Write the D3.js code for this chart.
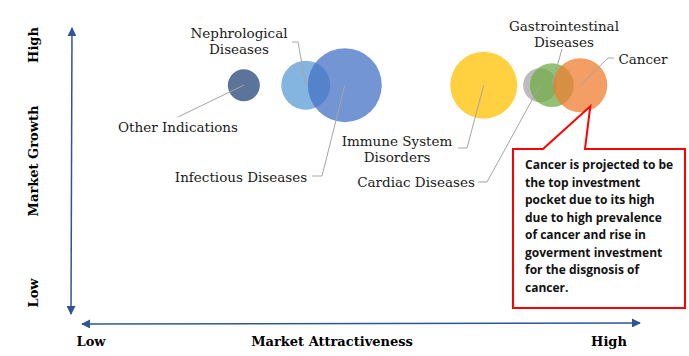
<!DOCTYPE html>
<html>
<head>
<meta charset="utf-8">
<script src="https://cdnjs.cloudflare.com/ajax/libs/d3/7.8.5/d3.min.js"></script>
<style>
  body { margin: 0; background: #fff; }
  svg { display: block; }
</style>
</head>
<body>
<svg id="chart"></svg>
<script>
    // ============ DATA =================
    var categories = ["Other Indications", "Nephrological Diseases", "Infectious Diseases",
        "Immune System Disorders", "Cardiac Diseases", "Gastrointestinal Diseases", "Cancer"];
    var attractiveness = [29, 40.1, 47.1, 72, 82.1, 84.2, 89.3];   // 0-100, low -> high
    var growth = [80, 80, 80, 80, 80, 80, 80];                      // 0-100, low -> high
    var bubbleSize = [16, 37.5, 85.5, 70, 18, 30, 45.5];
    var colors = ["#264478", "#5B9BD5", "#4472C4", "#FFC000", "#A5A5A5", "#70AD47", "#ED7D31"];
    var axisTicks = ["Low", "High"];
    var calloutLines = ["Cancer is projected to be", "the top investment", "pocket due to its high",
        "due to high prevalence", "of cancer and rise in", "goverment investment",
        "for the disgnosis of", "cancer."];

    // label layout: text lines, anchor point, leader elbow points
    var labelLayout = [
        { lines: ["Other Indications"], x: 178, y: 132, anchor: "middle", path: [[178, 117]] },
        { lines: ["Nephrological", "Diseases"], x: 239, y: 38, anchor: "middle", path: [[298, 42], [292, 42]] },
        { lines: ["Infectious Diseases"], x: 241, y: 182, anchor: "middle", path: [[322, 176], [312, 176]] },
        { lines: ["Immune System", "Disorders"], x: 397, y: 146, anchor: "middle", path: [[467, 148], [458, 148]] },
        { lines: ["Cardiac Diseases"], x: 416, y: 187, anchor: "middle", path: [[487, 182], [478, 182]] },
        { lines: ["Gastrointestinal", "Diseases"], x: 564, y: 31, anchor: "middle", path: [[562, 49]] },
        { lines: ["Cancer"], x: 643, y: 64, anchor: "middle", path: [[608, 58], [614, 58]] }
    ];

    var width = 689, height = 356;
    var svg = d3.select("#chart").attr("width", width).attr("height", height);

    var xScale = d3.scaleLinear().domain([0, 100]).range([82, 640]);
    var yScale = d3.scaleLinear().domain([0, 100]).range([314, 28]);
    var rScale = d3.scaleSqrt().domain([0, 100]).range([0, 40]);

    var serif = "'DejaVu Serif', 'Liberation Serif', serif";
    var axisColor = "#2F5597";

    // ============ AXES (arrows) =================
    var defs = svg.append("defs");
    defs.append("marker")
        .attr("id", "arrow")
        .attr("viewBox", "0 0 10 10")
        .attr("refX", 9).attr("refY", 5)
        .attr("markerWidth", 9).attr("markerHeight", 9)
        .attr("markerUnits", "userSpaceOnUse")
        .attr("orient", "auto-start-reverse")
        .append("path")
        .attr("d", "M0,0 L10,5 L0,10 Z")
        .attr("fill", axisColor);

    svg.append("line")
        .attr("x1", 72).attr("y1", yScale(100))
        .attr("x2", 71).attr("y2", yScale(0))
        .attr("stroke", axisColor).attr("stroke-width", 1.5)
        .attr("marker-start", "url(#arrow)")
        .attr("marker-end", "url(#arrow)");

    svg.append("line")
        .attr("x1", xScale(0)).attr("y1", 324)
        .attr("x2", xScale(100)).attr("y2", 323)
        .attr("stroke", axisColor).attr("stroke-width", 1.5)
        .attr("marker-start", "url(#arrow)")
        .attr("marker-end", "url(#arrow)");

    // y axis texts (rotated)
    var yTexts = [
        { t: axisTicks[1], y: 45 },
        { t: "Market Growth", y: 161 },
        { t: axisTicks[0], y: 293 }
    ];
    svg.selectAll(".ytxt")
        .data(yTexts)
        .enter().append("text")
        .attr("class", "ytxt")
        .attr("transform", function (d) { return "translate(38," + d.y + ") rotate(-90)"; })
        .attr("text-anchor", "middle")
        .style("font-family", serif).style("font-weight", "bold").style("font-size", "13px")
        .text(function (d) { return d.t; });

    // x axis texts
    var xTexts = [
        { t: axisTicks[0], x: 91 },
        { t: "Market Attractiveness", x: 332 },
        { t: axisTicks[1], x: 609 }
    ];
    svg.selectAll(".xtxt")
        .data(xTexts)
        .enter().append("text")
        .attr("class", "xtxt")
        .attr("x", function (d) { return d.x; })
        .attr("y", 346)
        .attr("text-anchor", "middle")
        .style("font-family", serif).style("font-weight", "bold").style("font-size", "13px")
        .text(function (d) { return d.t; });

    // ============ BUBBLES =================
    var data = categories.map(function (c, i) {
        return { label: c, x: attractiveness[i], y: growth[i], size: bubbleSize[i], color: colors[i], layout: labelLayout[i] };
    });

    svg.selectAll(".bubble")
        .data(data)
        .enter().append("circle")
        .attr("class", "bubble")
        .attr("cx", function (d) { return xScale(d.x); })
        .attr("cy", function (d) { return yScale(d.y); })
        .attr("r", function (d) { return rScale(d.size); })
        .attr("fill", function (d) { return d.color; })
        .attr("fill-opacity", 0.75);

    // leader lines
    svg.selectAll(".leader")
        .data(data)
        .enter().append("polyline")
        .attr("class", "leader")
        .attr("points", function (d) {
            var pts = [[xScale(d.x), yScale(d.y)]].concat(d.layout.path);
            return pts.map(function (p) { return p.join(","); }).join(" ");
        })
        .attr("fill", "none")
        .attr("stroke", "#A6A6A6")
        .attr("stroke-width", 1);

    // labels
    var labels = svg.selectAll(".lbl")
        .data(data)
        .enter().append("text")
        .attr("class", "lbl")
        .attr("text-anchor", function (d) { return d.layout.anchor; })
        .style("font-family", serif).style("font-size", "13.5px").style("fill", "#1a1a1a");
    labels.selectAll("tspan")
        .data(function (d) { return d.layout.lines.map(function (l, i) { return { t: l, x: d.layout.x, y: d.layout.y + i * 16 }; }); })
        .enter().append("tspan")
        .attr("x", function (d) { return d.x; })
        .attr("y", function (d) { return d.y; })
        .text(function (d) { return d.t; });

    // ============ CALLOUT =================
    var cancer = data[6];
    var tipX = xScale(cancer.x) + 10, tipY = yScale(cancer.y) + 21;
    var box = { x0: 513, y0: 149, x1: 685, y1: 308 };
    svg.append("path")
        .attr("d", "M" + box.x0 + "," + box.y0 + " L543," + box.y0 + " L" + tipX + "," + tipY +
            " L585," + box.y0 + " L" + box.x1 + "," + box.y0 + " L" + box.x1 + "," + box.y1 +
            " L" + box.x0 + "," + box.y1 + " Z")
        .attr("fill", "#fff")
        .attr("stroke", "#FF0000")
        .attr("stroke-width", 2);

    svg.append("text")
        .style("font-family", "'Open Sans', 'Noto Sans', sans-serif")
        .style("font-weight", "bold").style("font-size", "12px").style("fill", "#111")
        .selectAll("tspan")
        .data(calloutLines)
        .enter().append("tspan")
        .attr("x", 525)
        .attr("y", function (d, i) { return 169 + i * 17.5; })
        .text(function (d) { return d; });
</script>
</body>
</html>
